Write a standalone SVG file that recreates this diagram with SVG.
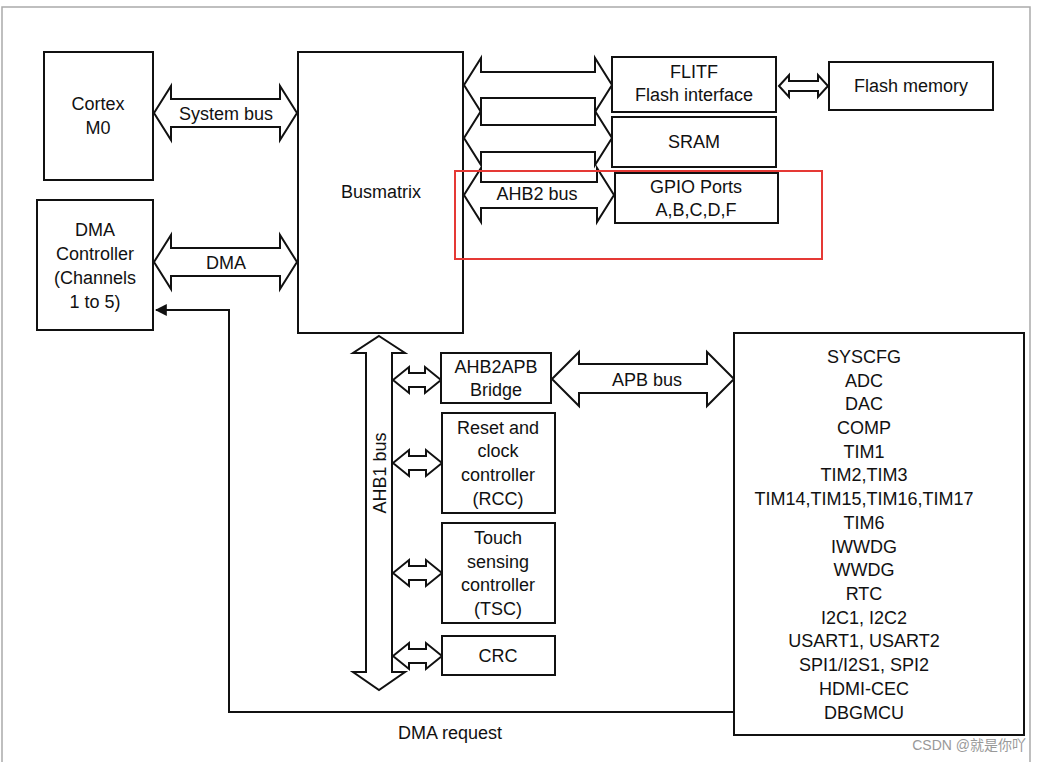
<svg xmlns="http://www.w3.org/2000/svg" width="1041" height="762" viewBox="0 0 1041 762">
<style>
.b{fill:#fff;stroke:#111;stroke-width:2}
.a{fill:#fff;stroke:#111;stroke-width:2;stroke-linejoin:miter}
text{font-family:"Liberation Sans",Arial,sans-serif;font-size:18px;fill:#111;text-anchor:middle}
</style>
<defs><marker id="m" viewBox="0 0 10 10" refX="9" refY="5" markerWidth="6" markerHeight="6" orient="auto"><path d="M0,0L10,5L0,10Z" fill="#111"/></marker></defs>
<rect x="0" y="0" width="1041" height="762" fill="#fff"/>
<rect x="2" y="7" width="1028" height="760" fill="none" stroke="#aaa" stroke-width="1.5"/>
<g id="connectors">
<path class="a" d="M154,113 L171,86 L171,99 L280,99 L280,86 L297,113 L280,140 L280,127 L171,127 L171,140 Z"/>
<path class="a" d="M154,262 L171,235 L171,248 L280,248 L280,235 L297,262 L280,289 L280,276 L171,276 L171,289 Z"/>
<path class="a" d="M464,85 L481,58 L481,72 L595,72 L595,58 L612,85 L595,112 L595,98 L481,98 L481,112 Z"/>
<path class="a" d="M464,138 L481,111 L481,125 L595,125 L595,111 L612,138 L595,165 L595,152 L481,152 L481,165 Z"/>
<path class="a" d="M464,195 L481,168 L481,182 L597,182 L597,168 L614,195 L597,222 L597,208 L481,208 L481,222 Z"/>
<path class="a" d="M779,86 L789,75 L789,81 L818,81 L818,75 L828,86 L818,97 L818,91 L789,91 L789,97 Z"/>
<path class="a" d="M552,379 L579,352 L579,364 L707,364 L707,352 L734,379 L707,406 L707,393 L579,393 L579,406 Z"/>
<path class="a" d="M379,336 L405,353 L392,353 L392,672 L405,672 L379,690 L353,672 L366,672 L366,353 L353,353 Z"/>
<path class="a" d="M393,380 L409,367 L409,373 L425,373 L425,367 L441,380 L425,393 L425,387 L409,387 L409,393 Z"/>
<path class="a" d="M393,463 L409,450 L409,456 L426,456 L426,450 L442,463 L426,476 L426,470 L409,470 L409,476 Z"/>
<path class="a" d="M393,573 L409,560 L409,566 L426,566 L426,560 L442,573 L426,586 L426,580 L409,580 L409,586 Z"/>
<path class="a" d="M393,656 L409,643 L409,649 L426,649 L426,643 L442,656 L426,669 L426,663 L409,663 L409,669 Z"/>
<path d="M734,712 L229,712 L229,310 L156,310" fill="none" stroke="#111" stroke-width="2" marker-end="url(#m)"/>
<text x="226" y="120">System bus</text>
<text x="226" y="269">DMA</text>
<text x="537" y="200">AHB2 bus</text>
<text x="647" y="386">APB bus</text>
<text transform="translate(386,473) rotate(-90)">AHB1 bus</text>
<text x="450" y="739">DMA request</text>
</g>
<g id="cortex"><rect class="b" x="44" y="52" width="109" height="128"/><text x="98" y="110">Cortex</text><text x="98" y="134">M0</text></g>
<g id="busmatrix"><rect class="b" x="298" y="52" width="165" height="281"/><text x="381" y="198">Busmatrix</text></g>
<g id="dma"><rect class="b" x="37" y="200" width="116" height="130"/><text x="95" y="236">DMA</text><text x="95" y="260">Controller</text><text x="95" y="284">(Channels</text><text x="95" y="308">1 to 5)</text></g>
<g id="flitf"><rect class="b" x="612" y="57" width="164" height="55"/><text x="694" y="78">FLITF</text><text x="694" y="101">Flash interface</text></g>
<g id="flash"><rect class="b" x="829" y="62" width="164" height="48"/><text x="911" y="92">Flash memory</text></g>
<g id="sram"><rect class="b" x="612" y="117" width="164" height="50"/><text x="694" y="148">SRAM</text></g>
<g id="gpio"><rect class="b" x="615" y="173" width="163" height="50"/><text x="696" y="193">GPIO Ports</text><text x="696" y="216">A,B,C,D,F</text></g>
<g id="highlight"><rect x="455" y="171" width="367" height="88" fill="none" stroke="#e53935" stroke-width="2"/></g>
<g id="ahb2apb"><rect class="b" x="441" y="353" width="110" height="50"/><text x="496" y="373">AHB2APB</text><text x="496" y="396">Bridge</text></g>
<g id="rcc"><rect class="b" x="442" y="413" width="113" height="100"/><text x="498" y="434">Reset and</text><text x="498" y="457">clock</text><text x="498" y="481">controller</text><text x="498" y="505">(RCC)</text></g>
<g id="tsc"><rect class="b" x="442" y="523" width="113" height="100"/><text x="498" y="544">Touch</text><text x="498" y="568">sensing</text><text x="498" y="591">controller</text><text x="498" y="615">(TSC)</text></g>
<g id="crc"><rect class="b" x="442" y="636" width="113" height="39"/><text x="498" y="662">CRC</text></g>
<g id="apb"><rect class="b" x="734" y="333" width="290" height="402"/>
<text x="864" y="363">SYSCFG</text><text x="864" y="387">ADC</text><text x="864" y="410">DAC</text><text x="864" y="434">COMP</text><text x="864" y="458">TIM1</text><text x="864" y="481">TIM2,TIM3</text><text x="864" y="505">TIM14,TIM15,TIM16,TIM17</text><text x="864" y="529">TIM6</text><text x="864" y="553">IWWDG</text><text x="864" y="576">WWDG</text><text x="864" y="600">RTC</text><text x="864" y="624">I2C1, I2C2</text><text x="864" y="647">USART1, USART2</text><text x="864" y="671">SPI1/I2S1, SPI2</text><text x="864" y="695">HDMI-CEC</text><text x="864" y="719">DBGMCU</text></g>
<text x="1026" y="750" style="font-family:'Liberation Sans','Noto Sans CJK SC',sans-serif;font-size:14px;fill:#999;text-anchor:end">CSDN @就是你吖</text>
</svg>
